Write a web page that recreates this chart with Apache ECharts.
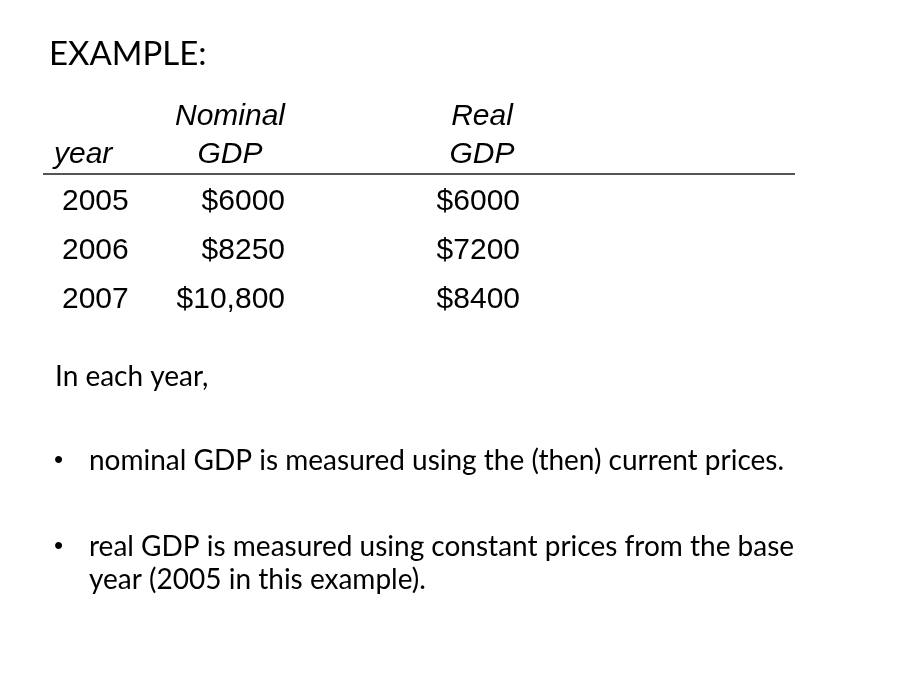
<!DOCTYPE html>
<html>
<head>
<meta charset="utf-8">
<script src="https://cdn.jsdelivr.net/npm/echarts@6/dist/echarts.min.js"></script>
<style>html,body{margin:0;padding:0;background:#fff}#c{width:900px;height:675px}</style>
</head>
<body>
<div id="c"></div>
<script>
// ---- data ----
const title = 'EXAMPLE:';
const headerTop = ['', 'Nominal', 'Real'];
const headerBottom = ['year', 'GDP', 'GDP'];
const years = ['2005', '2006', '2007'];
const nominalGDP = [6000, 8250, 10800];
const realGDP = [6000, 7200, 8400];
const introText = 'In each year,';
const bullets = [
  ['nominal GDP is measured using the (then) current prices.'],
  ['real GDP is measured using constant prices from the base', 'year (2005 in this example).']
];

// ---- layout / style ----
const tableFont = '"Liberation Sans", Arial, sans-serif';
const bodyFont = 'Lato, "Open Sans", sans-serif';
const colAnchor = { year: 62, nominal: 285, real: 520 };
const headerCenter = [0, 230, 482];

function money(v) {
  const s = v >= 10000 ? v.toLocaleString('en-US') : String(v);
  return '$' + s;
}

const chart = echarts.init(document.getElementById('c'), null, { renderer: 'canvas' });

function colSeries(xAnchor, texts, align) {
  return {
    type: 'scatter',
    symbolSize: 0,
    silent: true,
    itemStyle: { opacity: 1, color: '#000' },
    emphasis: { disabled: true },
    data: texts.map((t, i) => ({ value: [xAnchor, years[i]], txt: t })),
    label: {
      show: true,
      position: 'inside',
      align: align,
      verticalAlign: 'middle',
      fontFamily: tableFont,
      fontSize: 30,
      color: '#000',
      textBorderWidth: 0,
      opacity: 1,
      formatter: p => p.data.txt
    }
  };
}

const graphics = [];
graphics.push({
  type: 'text', x: 49, y: 54,
  style: { text: title, fontFamily: bodyFont, fontSize: 33, fill: '#000', verticalAlign: 'middle' }
});
headerTop.forEach((h, i) => {
  if (!h) return;
  graphics.push({
    type: 'text', x: headerCenter[i], y: 117,
    style: { text: h, fontFamily: tableFont, fontStyle: 'italic', fontSize: 30, fill: '#000', align: 'center', verticalAlign: 'middle' }
  });
});
headerBottom.forEach((h, i) => {
  graphics.push({
    type: 'text', x: i === 0 ? 54 : headerCenter[i], y: 155,
    style: { text: h, fontFamily: tableFont, fontStyle: 'italic', fontSize: 30, fill: '#000', align: i === 0 ? 'left' : 'center', verticalAlign: 'middle' }
  });
});
graphics.push({
  type: 'line', shape: { x1: 43, y1: 174, x2: 795, y2: 174 },
  style: { stroke: '#555', lineWidth: 2 }
});
graphics.push({
  type: 'text', x: 55, y: 377,
  style: { text: introText, fontFamily: bodyFont, fontSize: 28, fill: '#000', verticalAlign: 'middle' }
});
const bulletY = [461, 547];
bullets.forEach((lines, i) => {
  graphics.push({
    type: 'text', x: 54, y: bulletY[i],
    style: { text: '•', fontFamily: tableFont, fontSize: 26, fill: '#000', verticalAlign: 'middle' }
  });
  lines.forEach((ln, j) => {
    graphics.push({
      type: 'text', x: 89, y: bulletY[i] + j * 33,
      style: { text: ln, fontFamily: bodyFont, fontSize: 28, fill: '#000', verticalAlign: 'middle' }
    });
  });
});

chart.setOption({
  animation: false,
  backgroundColor: '#fff',
  grid: { left: 0, right: 0, top: 177.5, bottom: 350.5 },
  xAxis: { type: 'value', min: 0, max: 900, show: false },
  yAxis: { type: 'category', data: years, inverse: true, show: false },
  series: [
    colSeries(colAnchor.year, years, 'left'),
    colSeries(colAnchor.nominal, nominalGDP.map(money), 'right'),
    colSeries(colAnchor.real, realGDP.map(money), 'right')
  ],
  graphic: graphics
});
</script>
</body>
</html>
